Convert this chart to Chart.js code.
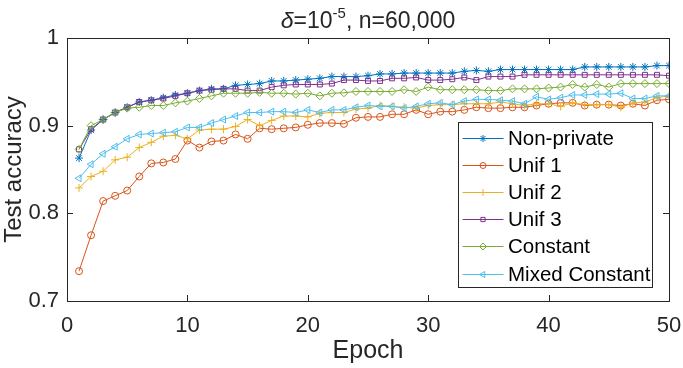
<!DOCTYPE html>
<html>
<head>
<meta charset="utf-8">
<script src="https://cdn.jsdelivr.net/npm/chart.js@4/dist/chart.umd.min.js"></script>
<style>
  body { margin: 0; background: #fff; }
  #wrap { width: 683px; height: 368px; }
</style>
</head>
<body>
<div id="wrap"><canvas id="accChart" width="683" height="368"></canvas></div>
<script>
const epochs = [1, 2, 3, 4, 5, 6, 7, 8, 9, 10, 11, 12, 13, 14, 15, 16, 17, 18, 19, 20,
    21, 22, 23, 24, 25, 26, 27, 28, 29, 30, 31, 32, 33, 34, 35, 36, 37, 38, 39, 40,
    41, 42, 43, 44, 45, 46, 47, 48, 49, 50];

const nonPrivate = [0.863, 0.895, 0.907, 0.915, 0.921, 0.927, 0.929, 0.932, 0.935, 0.937,
    0.940, 0.942, 0.942, 0.946, 0.947, 0.948, 0.951, 0.951, 0.952, 0.953,
    0.954, 0.956, 0.956, 0.956, 0.957, 0.959, 0.959, 0.960, 0.960, 0.960,
    0.960, 0.960, 0.962, 0.963, 0.962, 0.964, 0.964, 0.964, 0.964, 0.964,
    0.964, 0.964, 0.967, 0.967, 0.967, 0.967, 0.967, 0.967, 0.9685, 0.9685];

const unif1 = [0.734, 0.775, 0.814, 0.820, 0.826, 0.842, 0.857, 0.858, 0.862, 0.883,
    0.875, 0.882, 0.883, 0.890, 0.885, 0.897, 0.896, 0.897, 0.898, 0.901,
    0.903, 0.903, 0.902, 0.909, 0.910, 0.910, 0.913, 0.913, 0.918, 0.913,
    0.916, 0.916, 0.918, 0.921, 0.920, 0.920, 0.921, 0.921, 0.923, 0.925,
    0.926, 0.926, 0.923, 0.924, 0.924, 0.923, 0.925, 0.923, 0.929, 0.930];

const unif2 = [0.829, 0.842, 0.848, 0.861, 0.864, 0.875, 0.881, 0.888, 0.889, 0.885,
    0.895, 0.896, 0.896, 0.899, 0.907, 0.900, 0.906, 0.911, 0.911, 0.910,
    0.914, 0.915, 0.915, 0.919, 0.920, 0.923, 0.922, 0.921, 0.920, 0.923,
    0.924, 0.924, 0.925, 0.925, 0.925, 0.927, 0.925, 0.923, 0.925, 0.925,
    0.922, 0.926, 0.924, 0.924, 0.924, 0.921, 0.926, 0.927, 0.932, 0.934];

const unif3 = [0.873, 0.896, 0.907, 0.915, 0.921, 0.927, 0.929, 0.931, 0.934, 0.937,
    0.940, 0.941, 0.942, 0.942, 0.940, 0.940, 0.944, 0.946, 0.947, 0.947,
    0.947, 0.948, 0.952, 0.952, 0.951, 0.951, 0.954, 0.954, 0.955, 0.952,
    0.952, 0.953, 0.955, 0.952, 0.956, 0.956, 0.956, 0.958, 0.958, 0.958,
    0.958, 0.958, 0.958, 0.958, 0.958, 0.958, 0.958, 0.958, 0.958, 0.957];

const constant = [0.873, 0.900, 0.907, 0.915, 0.920, 0.921, 0.923, 0.923, 0.926, 0.928,
    0.931, 0.934, 0.937, 0.937, 0.937, 0.938, 0.937, 0.937, 0.936, 0.937,
    0.934, 0.937, 0.9375, 0.939, 0.939, 0.939, 0.939, 0.941, 0.939, 0.944,
    0.941, 0.941, 0.941, 0.941, 0.940, 0.940, 0.942, 0.942, 0.942, 0.943,
    0.944, 0.947, 0.944, 0.947, 0.944, 0.948, 0.948, 0.948, 0.948, 0.948];

const mixedConstant = [0.840, 0.856, 0.868, 0.876, 0.885, 0.890, 0.891, 0.892, 0.893, 0.898,
    0.898, 0.903, 0.907, 0.911, 0.915, 0.915, 0.916, 0.916, 0.915, 0.918,
    0.915, 0.918, 0.918, 0.921, 0.923, 0.922, 0.922, 0.920, 0.922, 0.925,
    0.926, 0.924, 0.928, 0.930, 0.930, 0.929, 0.928, 0.925, 0.933, 0.930,
    0.932, 0.935, 0.935, 0.936, 0.936, 0.937, 0.931, 0.931, 0.934, 0.934];

const seriesNames = ["Non-private", "Unif 1", "Unif 2", "Unif 3", "Constant", "Mixed Constant"];
const seriesValues = [nonPrivate, unif1, unif2, unif3, constant, mixedConstant];
const seriesColors = ["#0072BD", "#D95319", "#EDB120", "#7E2F8E", "#77AC30", "#4DBEEE"];
const seriesMarkers = ["star", "circle", "cross", "rect", "rectRot", "triangle"];
const markerRadius = [4, 3.5, 4, 3.5, 4, 4];
const markerRotation = [0, 0, 0, 0, 0, -90];

const xTicks = [0, 10, 20, 30, 40, 50];
const yTicks = [0.7, 0.8, 0.9, 1];

const AXIS_COLOR = "#262626";
const FONT = "'Liberation Sans', Arial, sans-serif";

const datasets = seriesNames.map(function (name, i) {
    return {
        label: name,
        data: epochs.map(function (e, k) { return { x: e, y: seriesValues[i][k] }; }),
        borderColor: seriesColors[i],
        backgroundColor: "transparent",
        borderWidth: 1,
        pointStyle: seriesMarkers[i],
        pointRadius: markerRadius[i],
        pointRotation: markerRotation[i],
        pointBorderWidth: 1,
        pointBorderColor: seriesColors[i],
        pointBackgroundColor: "transparent",
        order: seriesNames.length - i
    };
});

// box, inward ticks, title and legend drawn like the matlab figure
const matlabFramePlugin = {
    id: "matlabFrame",
    afterDraw: function (chart) {
        const ctx = chart.ctx;
        const area = chart.chartArea;
        const xs = chart.scales.x;
        const ys = chart.scales.y;
        const tickLen = 6;

        ctx.save();
        ctx.strokeStyle = AXIS_COLOR;
        ctx.lineWidth = 1;
        ctx.beginPath();
        xTicks.forEach(function (v) {
            const px = Math.round(xs.getPixelForValue(v)) + 0.5;
            ctx.moveTo(px, area.bottom);
            ctx.lineTo(px, area.bottom - tickLen);
            ctx.moveTo(px, area.top);
            ctx.lineTo(px, area.top + tickLen);
        });
        yTicks.forEach(function (v) {
            const py = Math.round(ys.getPixelForValue(v)) + 0.5;
            ctx.moveTo(area.left, py);
            ctx.lineTo(area.left + tickLen, py);
            ctx.moveTo(area.right, py);
            ctx.lineTo(area.right - tickLen, py);
        });
        ctx.stroke();
        ctx.strokeRect(Math.round(area.left) + 0.5, Math.round(area.top) + 0.5,
            Math.round(area.right - area.left), Math.round(area.bottom - area.top));

        // title: delta=10^-5, n=60,000
        ctx.fillStyle = AXIS_COLOR;
        ctx.textBaseline = "alphabetic";
        const mainFont = "23px " + FONT;
        const italFont = "italic 23px " + FONT;
        const supFont = "15px " + FONT;
        const parts = [
            { t: "\u03B4", f: italFont, dy: 0 },
            { t: "=10", f: mainFont, dy: 0 },
            { t: "-5", f: supFont, dy: -10 },
            { t: ", n=60,000", f: mainFont, dy: 0 }
        ];
        let total = 0;
        parts.forEach(function (p) { ctx.font = p.f; p.w = ctx.measureText(p.t).width; total += p.w; });
        let tx = (area.left + area.right) / 2 - total / 2;
        parts.forEach(function (p) {
            ctx.font = p.f;
            ctx.textAlign = "left";
            ctx.fillText(p.t, tx, 28 + p.dy);
            tx += p.w;
        });

        // legend
        const box = { x: 458.5, y: 122.5, w: 194, h: 165 };
        ctx.fillStyle = "#fff";
        ctx.fillRect(box.x, box.y, box.w, box.h);
        ctx.strokeStyle = AXIS_COLOR;
        ctx.strokeRect(box.x, box.y, box.w, box.h);
        ctx.font = "20.5px " + FONT;
        ctx.textBaseline = "middle";
        ctx.textAlign = "left";
        seriesNames.forEach(function (name, i) {
            const rowY = Math.round(138 + i * 27.1) + 0.5;
            ctx.strokeStyle = seriesColors[i];
            ctx.fillStyle = "rgba(0,0,0,0)";
            ctx.lineWidth = 1;
            ctx.beginPath();
            ctx.moveTo(462.5, rowY);
            ctx.lineTo(503.5, rowY);
            ctx.stroke();
            Chart.helpers.drawPoint(ctx, {
                pointStyle: seriesMarkers[i],
                radius: markerRadius[i] - 0.5,
                rotation: markerRotation[i],
                borderWidth: 1
            }, 483, rowY);
            ctx.fillStyle = "#000";
            ctx.fillText(name, 508, rowY + 1);
        });
        ctx.restore();
    }
};

new Chart(document.getElementById("accChart"), {
    type: "line",
    data: { datasets: datasets },
    options: {
        responsive: false,
        animation: false,
        devicePixelRatio: 1,
        layout: { padding: { top: 38, right: 14, left: 0, bottom: 0 } },
        plugins: {
            legend: { display: false },
            tooltip: { enabled: false }
        },
        scales: {
            x: {
                type: "linear",
                min: 0,
                max: 50,
                afterBuildTicks: function (scale) {
                    scale.ticks = xTicks.map(function (v) { return { value: v }; });
                },
                grid: { display: false, drawTicks: false },
                border: { display: false },
                ticks: {
                    color: AXIS_COLOR,
                    font: { family: FONT, size: 22 },
                    padding: 12,
                    maxRotation: 0
                },
                title: {
                    display: true,
                    text: "Epoch",
                    color: AXIS_COLOR,
                    font: { family: FONT, size: 25 },
                    padding: { top: 0, bottom: 2 }
                },
                afterFit: function (scale) {
                    scale.height = 67;
                    scale.paddingLeft = 0;
                    scale.paddingRight = 0;
                }
            },
            y: {
                type: "linear",
                min: 0.7,
                max: 1,
                afterBuildTicks: function (scale) {
                    scale.ticks = yTicks.map(function (v) { return { value: v }; });
                },
                grid: { display: false, drawTicks: false },
                border: { display: false },
                ticks: {
                    color: AXIS_COLOR,
                    font: { family: FONT, size: 22 },
                    padding: 8,
                    callback: function (v) { return String(Number(v.toFixed(1))); }
                },
                title: {
                    display: true,
                    text: "Test accuracy",
                    color: AXIS_COLOR,
                    font: { family: FONT, size: 24 },
                    padding: { top: 0, bottom: 0 }
                },
                afterFit: function (scale) {
                    scale.width = 67;
                    scale.paddingTop = 0;
                    scale.paddingBottom = 0;
                }
            }
        }
    },
    plugins: [matlabFramePlugin]
});
</script>
</body>
</html>
